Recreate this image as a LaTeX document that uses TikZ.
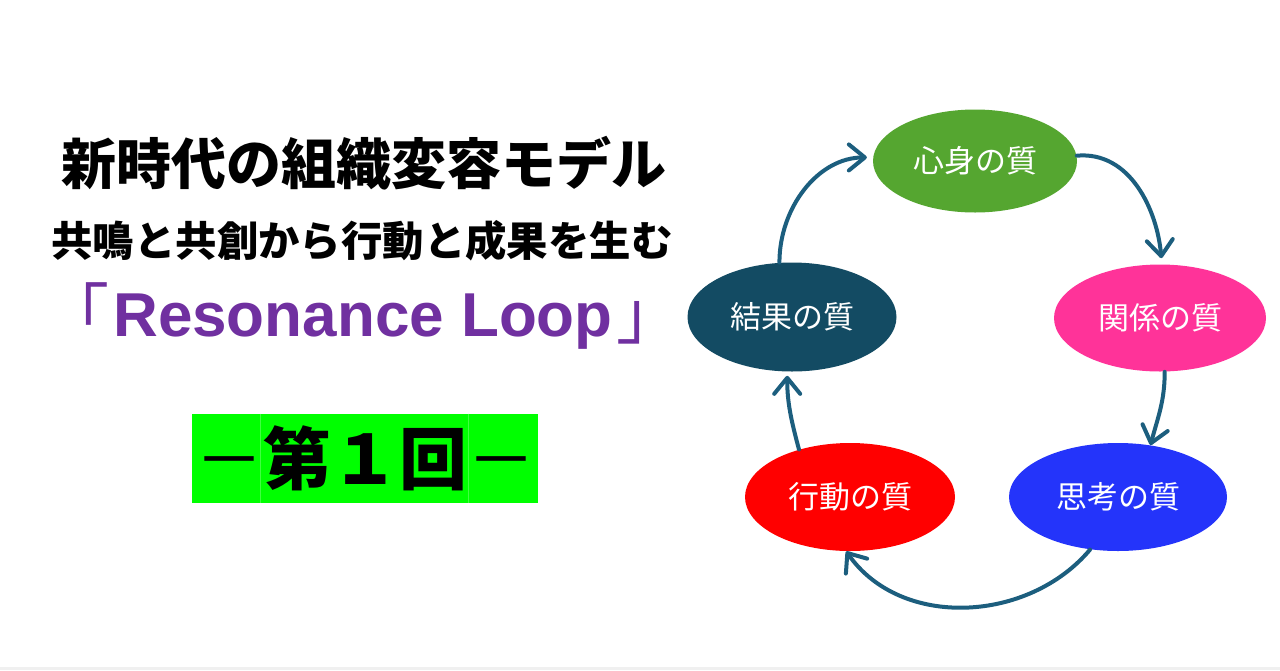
\documentclass[tikz,border=0pt]{standalone}
\usepackage{fontspec}
\setmainfont{Liberation Sans}
\newfontfamily\jp{Noto Sans CJK JP}
\usetikzlibrary{shapes.geometric,arrows.meta}
\definecolor{cgreen}{RGB}{85,166,48}
\definecolor{cpink}{RGB}{255,51,153}
\definecolor{cblue}{RGB}{36,52,250}
\definecolor{cred}{RGB}{255,0,0}
\definecolor{cteal}{RGB}{19,75,99}
\definecolor{carrow}{RGB}{28,94,126}
\definecolor{cpurple}{RGB}{112,48,160}
\definecolor{clime}{RGB}{0,255,0}
\tikzset{
  quality/.style={ellipse, inner sep=0pt, text=white, font=\jp\fontsize{15.5pt}{18pt}\selectfont},
  looparrow/.style={draw=carrow, line width=2pt, line cap=round,
    -{Straight Barb[length=8pt,width=13pt,round]}},
  faint/.style={draw=clime!75!white, line width=0.4pt}
}
\begin{document}
\begin{tikzpicture}[x=0.5pt,y=0.5pt]
\useasboundingbox (0,0) rectangle (1280,-670);
\fill[white] (0,0) rectangle (1280,-670);
\fill[black!6] (0,-667) rectangle (1280,-670);

% left texts
\node[font=\jp\bfseries\fontsize{27.5pt}{30pt}\selectfont] (title) at (364,-163) {新時代の組織変容モデル};
\node[font=\jp\bfseries\fontsize{20.7pt}{24pt}\selectfont] (sub) at (362,-241) {共鳴と共創から行動と成果を生む};
\node[text=cpurple, font=\bfseries\fontsize{31pt}{34pt}\selectfont] (loopname) at (363,-316)
  {\raisebox{-1pt}{\jp\mdseries\fontsize{33pt}{34pt}\selectfont 「}\hspace{2pt}Resonance Loop\hspace{2pt}\raisebox{-1pt}{\jp\mdseries\fontsize{33pt}{34pt}\selectfont 」}};

\node[fill=clime, minimum width=173pt, minimum height=44.5pt, inner sep=0pt] (kai) at (365,-458.5) {};
\draw[faint] (kai.north west) ++(69,0) -- ++(0,-89);
\draw[faint] (kai.north west) ++(277,0) -- ++(0,-89);
\node[font=\jp\bfseries\fontsize{34pt}{36pt}\selectfont] (kaitext) at (kai.center) {{\mdseries －}第１回{\mdseries －}};

% loop
\node[quality, fill=cgreen, minimum width=102pt, minimum height=51.5pt] (shinshin) at (975,-161) {心身の質};
\node[quality, fill=cpink, minimum width=106pt, minimum height=53.5pt] (kankei) at (1160,-318) {関係の質};
\node[quality, fill=cblue, minimum width=109pt, minimum height=54pt] (shikou) at (1118,-497) {思考の質};
\node[quality, fill=cred, minimum width=105pt, minimum height=54pt] (koudou) at (850,-497) {行動の質};
\node[quality, fill=cteal, minimum width=104.5pt, minimum height=54.5pt] (kekka) at (792,-317) {結果の質};

\draw[looparrow, shorten >=3pt] (kekka.103) to[out=90,in=180] (shinshin.178);
\draw[looparrow, shorten >=3pt] (shinshin.3) to[out=5,in=95] (kankei.88);
\draw[looparrow] (kankei.-85) to[out=-90,in=75] (shikou.58);
\draw[looparrow] (shikou.-118) to[out=-130,in=-55] (koudou.-94);
\draw[looparrow, shorten >=2pt] (koudou.137) to[out=105,in=-90] (kekka.-95);
\end{tikzpicture}
\end{document}
